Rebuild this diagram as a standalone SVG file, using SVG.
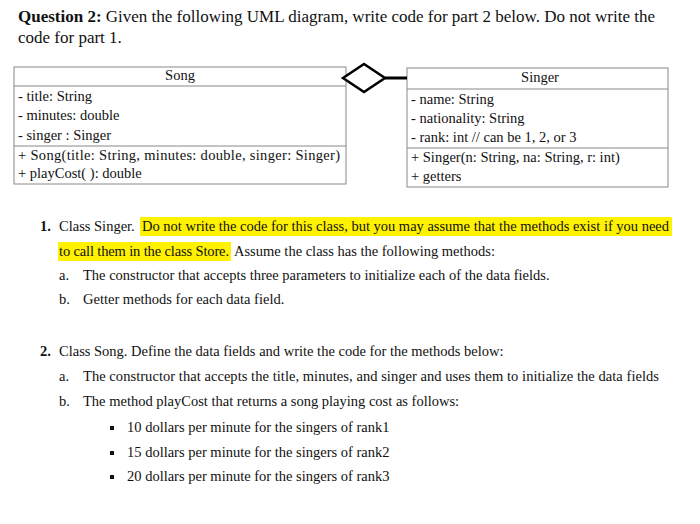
<svg xmlns="http://www.w3.org/2000/svg" width="700" height="524" viewBox="0 0 700 524">
<style>
text{font-family:"Liberation Serif","Times New Roman",serif;fill:#111}
.h{font-size:17px}
.u{font-size:14.5px}
.b{font-size:14.5px}
.box{fill:#fff;stroke:#888;stroke-width:1}
.ln{stroke:#888;stroke-width:1}
.hl{fill:#fff200}
</style>
<rect width="700" height="524" fill="#fff"/>
<text class="h" x="18" y="22" textLength="637"><tspan font-weight="bold">Question 2:</tspan> Given the following UML diagram, write code for part 2 below. Do not write the</text>
<text class="h" x="18" y="43">code for part 1.</text>
<g id="Song">
<rect class="box" x="14" y="67" width="332" height="117"/>
<line class="ln" x1="14" y1="86" x2="346" y2="86"/>
<line class="ln" x1="14" y1="146" x2="346" y2="146"/>
<text class="u" x="180" y="80" text-anchor="middle">Song</text>
<text class="u" x="18" y="101">- title: String</text>
<text class="u" x="18" y="120">- minutes: double</text>
<text class="u" x="18" y="140">- singer : Singer</text>
<text class="u" x="18" y="160" textLength="322">+ Song(title: String, minutes: double, singer: Singer)</text>
<text class="u" x="18" y="178">+ playCost( ): double</text>
</g>
<g id="Singer">
<rect class="box" x="407" y="68" width="261" height="119"/>
<line class="ln" x1="407" y1="89" x2="668" y2="89"/>
<line class="ln" x1="407" y1="148" x2="668" y2="148"/>
<text class="u" x="540" y="82" text-anchor="middle">Singer</text>
<text class="u" x="411" y="104">- name: String</text>
<text class="u" x="411" y="123">- nationality: String</text>
<text class="u" x="411" y="142">- rank: int // can be 1, 2, or 3</text>
<text class="u" x="411" y="162">+ Singer(n: String, na: String, r: int)</text>
<text class="u" x="411" y="181">+ getters</text>
</g>
<g id="connectors">
<polygon points="343,78 364,64 385,78 364,92" fill="#fff" stroke="#000" stroke-width="2.5"/>
<line x1="385" y1="78" x2="407" y2="78" stroke="#000" stroke-width="3"/>
</g>
<rect class="hl" x="140" y="217" width="532" height="19"/>
<rect class="hl" x="58" y="242" width="173" height="19"/>
<text class="b" x="40" y="231" font-weight="bold">1.</text>
<text class="b" x="59" y="231">Class Singer.</text>
<text class="b" x="142" y="231" textLength="527">Do not write the code for this class, but you may assume that the methods exist if you need</text>
<text class="b" x="59" y="256" textLength="170">to call them in the class Store.</text>
<text class="b" x="234" y="256">Assume the class has the following methods:</text>
<text class="b" x="59" y="280">a.</text>
<text class="b" x="83" y="280">The constructor that accepts three parameters to initialize each of the data fields.</text>
<text class="b" x="59" y="304">b.</text>
<text class="b" x="83" y="304">Getter methods for each data field.</text>
<text class="b" x="40" y="356" font-weight="bold">2.</text>
<text class="b" x="59" y="356">Class Song. Define the data fields and write the code for the methods below:</text>
<text class="b" x="59" y="381">a.</text>
<text class="b" x="83" y="381" textLength="576">The constructor that accepts the title, minutes, and singer and uses them to initialize the data fields</text>
<text class="b" x="59" y="406">b.</text>
<text class="b" x="83" y="406">The method playCost that returns a song playing cost as follows:</text>
<rect x="110" y="426" width="4" height="4" fill="#111"/>
<rect x="110" y="451" width="4" height="4" fill="#111"/>
<rect x="110" y="475" width="4" height="4" fill="#111"/>
<text class="b" x="127" y="432">10 dollars per minute for the singers of rank1</text>
<text class="b" x="127" y="457">15 dollars per minute for the singers of rank2</text>
<text class="b" x="127" y="481">20 dollars per minute for the singers of rank3</text>
</svg>
